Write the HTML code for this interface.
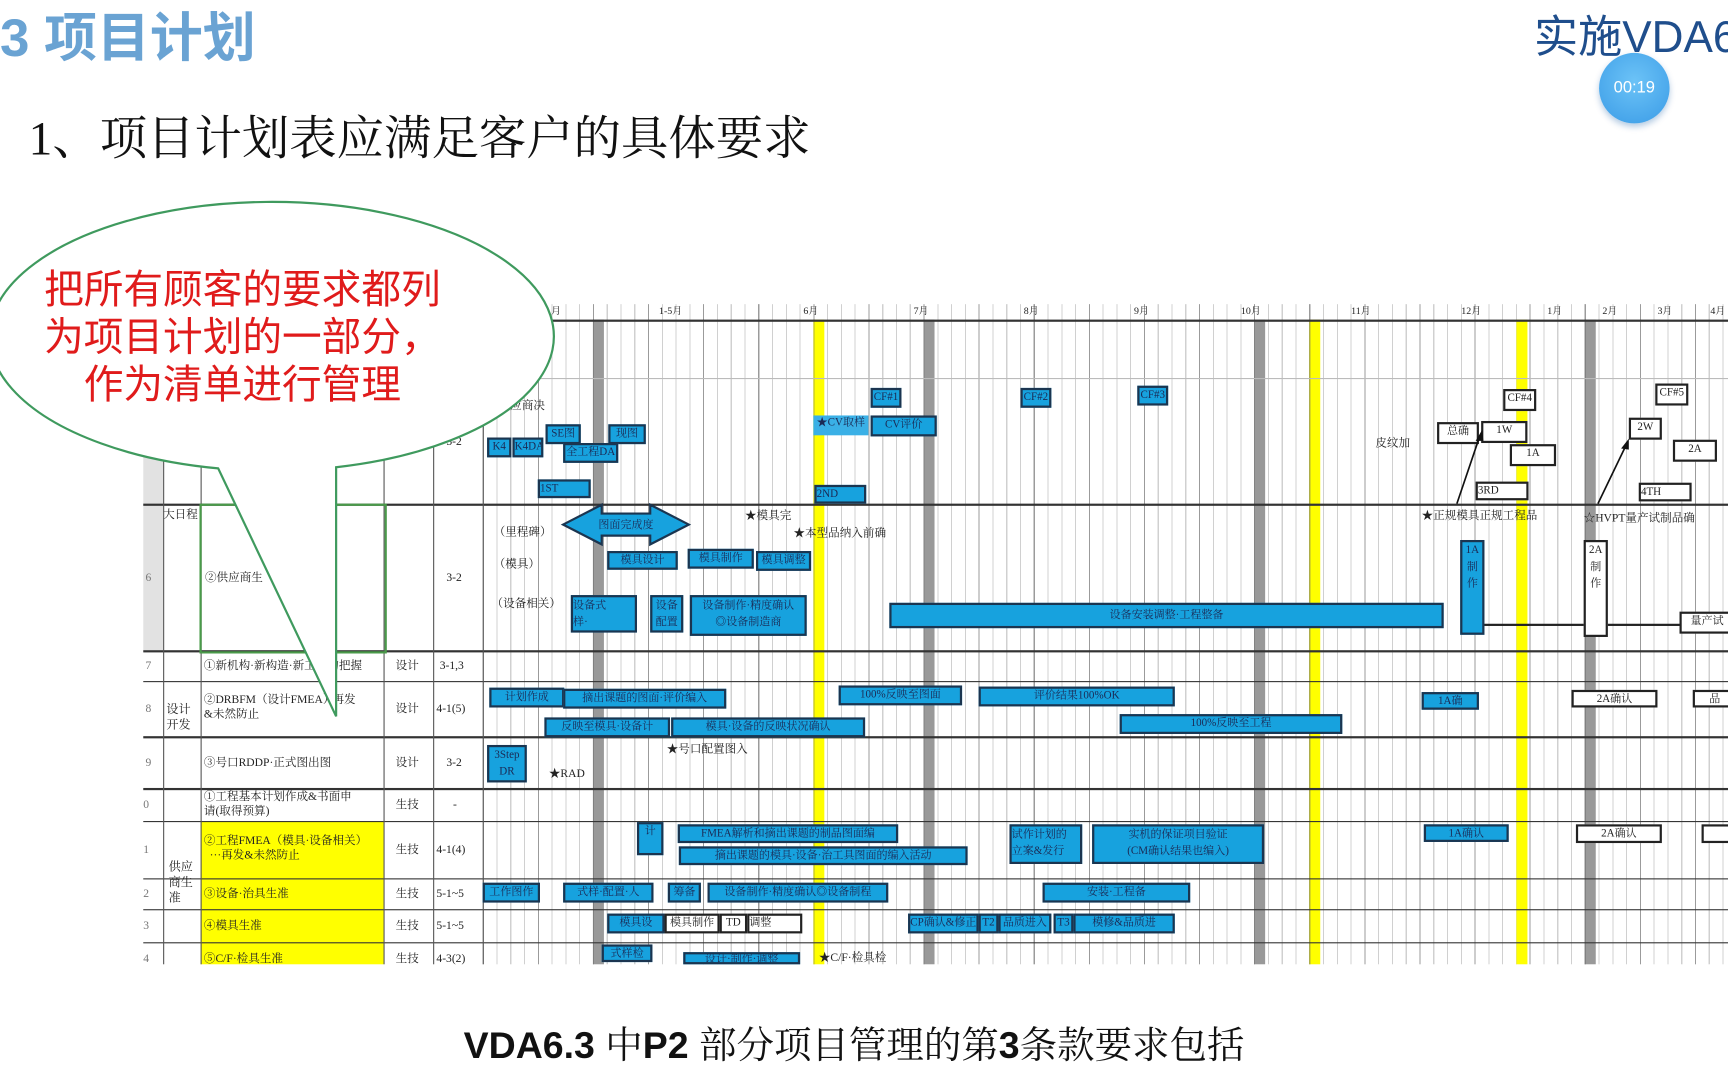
<!DOCTYPE html>
<html><head><meta charset="utf-8"><style>
html,body{margin:0;padding:0;background:#fff;width:1728px;height:1080px;overflow:hidden}
#w{position:absolute;left:0;top:0;width:1568px;height:980px;transform:scale(1.10204);transform-origin:0 0;font-family:"Liberation Serif","Noto Serif CJK SC",serif}
.a{position:absolute}
.b{position:absolute;background:#17a2de;border:2px solid #1b3550;box-sizing:border-box;font-size:10px;color:#1b2a55;text-align:center;line-height:14px;white-space:nowrap;overflow:hidden}
.wb{background:#fff;border-color:#222;color:#222}
.t{position:absolute;font-size:10.5px;color:#222;white-space:nowrap;line-height:13px}
.h{position:absolute;left:130px;width:1438px;height:1px;background:#333}
.v{position:absolute;width:1px;background:#555}
.cat{position:absolute;font-size:11px;color:#222;line-height:14px}
</style></head><body><div id="w">
<div class="a" style="left:0;top:4px;font-family:'Liberation Sans','Noto Sans CJK SC',sans-serif;font-weight:bold;font-size:48px;color:#6aa3d3;line-height:64px;white-space:nowrap">3 项目计划</div>
<div class="a" style="left:1392px;top:8px;font-family:'Liberation Sans','Noto Sans CJK SC',sans-serif;font-size:40px;color:#1f4e8c;line-height:52px;white-space:nowrap">实施VDA6</div>
<div class="a" style="left:1451px;top:48px;width:64px;height:64px;border-radius:50%;background:radial-gradient(circle at 50% 40%,#6cc3f7,#3a9be6);box-shadow:0 3px 6px rgba(0,80,160,.3);color:#fff;font-family:'Liberation Sans',sans-serif;font-size:15px;text-align:center;line-height:64px">00:19</div>
<div class="a" style="left:26px;top:98px;font-family:'Liberation Serif','Noto Serif CJK SC',serif;font-size:43px;color:#111;line-height:58px;white-space:nowrap">1、项目计划表应满足客户的具体要求</div>
<div class="a" style="left:0;width:1550px;top:924px;text-align:center;font-family:'Liberation Sans','Noto Serif CJK SC',sans-serif;font-size:34px;color:#111;line-height:50px"><b>VDA6.3</b> 中<b>P2</b> 部分项目管理的第<b>3</b>条款要求包括</div>

<div class="a" style="left:438px;top:276px;width:1130px;height:599px;background:repeating-linear-gradient(90deg,#d0d0d0 0 1px,transparent 1px 12.5px)"></div>
<div class="a" style="left:130px;top:290px;width:18px;height:300px;background:#e2e2e2"></div>
<div class="a" style="left:182px;top:745px;width:166px;height:130px;background:#ffff00"></div>
<div class="a" style="left:538px;top:290px;width:10px;height:585px;background:#999"></div>
<div class="a" style="left:838px;top:290px;width:10px;height:585px;background:#999"></div>
<div class="a" style="left:1138px;top:290px;width:10px;height:585px;background:#999"></div>
<div class="a" style="left:1438px;top:290px;width:10px;height:585px;background:#999"></div>
<div class="a" style="left:738px;top:290px;width:10px;height:585px;background:#ffff00"></div>
<div class="a" style="left:1188px;top:290px;width:10px;height:585px;background:#ffff00"></div>
<div class="a" style="left:1376px;top:290px;width:10px;height:585px;background:#ffff00"></div>
<div class="a" style="left:488px;top:276px;width:1080px;height:599px;background:repeating-linear-gradient(90deg,#666 0 1px,transparent 1px 50px);opacity:.5"></div>
<div class="h" style="top:290px;left:438px;width:1130px;height:2px"></div>
<div class="h" style="top:343px;left:438px;width:1130px;background:#bbb"></div>
<div class="h" style="top:457px;height:2px"></div>
<div class="h" style="top:590px;height:2px"></div>
<div class="h" style="top:618px"></div>
<div class="h" style="top:668px;height:2px"></div>
<div class="h" style="top:715px;height:2px"></div>
<div class="h" style="top:745px"></div>
<div class="h" style="top:797px"></div>
<div class="h" style="top:825px"></div>
<div class="h" style="top:855px"></div>
<div class="v" style="left:148px;top:290px;height:585px"></div>
<div class="v" style="left:182px;top:290px;height:585px"></div>
<div class="v" style="left:348px;top:290px;height:585px"></div>
<div class="v" style="left:393px;top:290px;height:585px"></div>
<div class="v" style="left:438px;top:276px;height:599px"></div>
<div class="t" style="left:500px;top:276px;font-size:9px">月</div>
<div class="t" style="left:598px;top:276px;font-size:9px">1-5月</div>
<div class="t" style="left:729px;top:276px;font-size:9px">6月</div>
<div class="t" style="left:829px;top:276px;font-size:9px">7月</div>
<div class="t" style="left:929px;top:276px;font-size:9px">8月</div>
<div class="t" style="left:1029px;top:276px;font-size:9px">9月</div>
<div class="t" style="left:1126px;top:276px;font-size:9px">10月</div>
<div class="t" style="left:1226px;top:276px;font-size:9px">11月</div>
<div class="t" style="left:1326px;top:276px;font-size:9px">12月</div>
<div class="t" style="left:1404px;top:276px;font-size:9px">1月</div>
<div class="t" style="left:1454px;top:276px;font-size:9px">2月</div>
<div class="t" style="left:1504px;top:276px;font-size:9px">3月</div>
<div class="t" style="left:1552px;top:276px;font-size:9px">4月</div>

<div class="t" style="left:132px;top:518px;color:#777">6</div>
<div class="t" style="left:132px;top:598px;color:#777">7</div>
<div class="t" style="left:132px;top:637px;color:#777">8</div>
<div class="t" style="left:132px;top:686px;color:#777">9</div>
<div class="t" style="left:130px;top:724px;color:#777">0</div>
<div class="t" style="left:130px;top:765px;color:#777">1</div>
<div class="t" style="left:130px;top:805px;color:#777">2</div>
<div class="t" style="left:130px;top:834px;color:#777">3</div>
<div class="t" style="left:130px;top:864px;color:#777">4</div>
<div class="t" style="left:148px;top:461px">大日程</div>
<div class="cat" style="left:151px;top:637px">设计<br>开发</div>
<div class="cat" style="left:153px;top:780px">供应<br>商生<br>准</div>
<div class="t" style="left:186px;top:518px">②供应商生</div>
<div class="t" style="left:185px;top:598px">①新机构·新构造·新工艺的把握</div>
<div class="t" style="left:185px;top:629px">②DRBFM（设计FMEA）·再发<br>&amp;未然防止</div>
<div class="t" style="left:185px;top:686px">③号口RDDP·正式图出图</div>
<div class="t" style="left:185px;top:717px">①工程基本计划作成&amp;书面申<br>请(取得预算)</div>
<div class="t" style="left:185px;top:757px">②工程FMEA（模具·设备相关）<br>&nbsp;&nbsp;···再发&amp;未然防止</div>
<div class="t" style="left:185px;top:805px">③设备·治具生准</div>
<div class="t" style="left:185px;top:834px">④模具生准</div>
<div class="t" style="left:185px;top:864px">⑤C/F·检具生准</div>
<div class="t" style="left:359px;top:598px">设计</div>
<div class="t" style="left:359px;top:637px">设计</div>
<div class="t" style="left:359px;top:686px">设计</div>
<div class="t" style="left:359px;top:724px">生技</div>
<div class="t" style="left:359px;top:765px">生技</div>
<div class="t" style="left:359px;top:805px">生技</div>
<div class="t" style="left:359px;top:834px">生技</div>
<div class="t" style="left:359px;top:864px">生技</div>
<div class="t" style="left:405px;top:395px">3-2</div>
<div class="t" style="left:405px;top:518px">3-2</div>
<div class="t" style="left:399px;top:598px">3-1,3</div>
<div class="t" style="left:396px;top:637px">4-1(5)</div>
<div class="t" style="left:405px;top:686px">3-2</div>
<div class="t" style="left:411px;top:724px">-</div>
<div class="t" style="left:396px;top:765px">4-1(4)</div>
<div class="t" style="left:396px;top:805px">5-1~5</div>
<div class="t" style="left:396px;top:834px">5-1~5</div>
<div class="t" style="left:396px;top:864px">4-3(2)</div>
<div class="a" style="left:181px;top:457px;width:166px;height:132px;border:2px solid #4a9a4a"></div>

<div class="t" style="left:463px;top:362px">应商决</div>
<div class="t" style="left:1248px;top:396px">皮纹加</div>
<div class="t" style="left:448px;top:477px">（里程碑）</div>
<div class="t" style="left:448px;top:506px">（模具）</div>
<div class="t" style="left:446px;top:542px">（设备相关）</div>
<div class="t" style="left:676px;top:462px">★模具完</div>
<div class="t" style="left:720px;top:478px">★本型品纳入前确</div>
<div class="t" style="left:1290px;top:462px">★正规模具正规工程品</div>
<div class="t" style="left:1437px;top:464px">☆HVPT量产试制品确</div>
<div class="t" style="left:498px;top:696px">★RAD</div>
<div class="t" style="left:605px;top:674px">★号口配置图入</div>
<div class="t" style="left:743px;top:863px">★C/F·检具检</div>

<div class="b" style="left:790px;top:352px;width:28px;height:18px">CF#1</div>
<div class="b" style="left:926px;top:352px;width:28px;height:18px">CF#2</div>
<div class="b" style="left:1032px;top:350px;width:28px;height:18px">CF#3</div>
<div class="b" style="left:738px;top:377px;width:50px;height:18px;border:none;background:#3ab0e6">★CV取样</div>
<div class="b" style="left:790px;top:377px;width:60px;height:19px">CV评价</div>
<div class="b" style="left:442px;top:397px;width:22px;height:18px">K4</div>
<div class="b" style="left:465px;top:397px;width:28px;height:18px">K4DA</div>
<div class="b" style="left:495px;top:385px;width:32px;height:18px">SE图</div>
<div class="b" style="left:552px;top:385px;width:34px;height:18px">现图</div>
<div class="b" style="left:511px;top:402px;width:50px;height:18px">全工程DA</div>
<div class="b" style="left:488px;top:435px;width:48px;height:17px;text-align:left">1ST</div>
<div class="b" style="left:739px;top:440px;width:47px;height:17px;text-align:left">2ND</div>
<div class="b wb" style="left:1364px;top:353px;width:30px;height:20px">CF#4</div>
<div class="b wb" style="left:1304px;top:383px;width:38px;height:20px">总确</div>
<div class="b wb" style="left:1344px;top:382px;width:42px;height:20px">1W</div>
<div class="b wb" style="left:1370px;top:403px;width:42px;height:20px">1A</div>
<div class="b wb" style="left:1339px;top:437px;width:48px;height:17px;text-align:left">3RD</div>
<div class="b wb" style="left:1502px;top:348px;width:30px;height:20px">CF#5</div>
<div class="b wb" style="left:1478px;top:379px;width:30px;height:20px">2W</div>
<div class="b wb" style="left:1518px;top:399px;width:40px;height:20px">2A</div>
<div class="b wb" style="left:1487px;top:438px;width:48px;height:17px;text-align:left">4TH</div>

<div class="b" style="left:551px;top:500px;width:64px;height:17px">模具设计</div>
<div class="b" style="left:624px;top:498px;width:60px;height:18px">模具制作</div>
<div class="b" style="left:686px;top:500px;width:50px;height:18px">模具调整</div>
<div class="b" style="left:518px;top:540px;width:60px;height:34px;text-align:left;line-height:15px;white-space:normal">设备式<br>样·</div>
<div class="b" style="left:590px;top:540px;width:30px;height:34px;line-height:15px">设备<br>配置</div>
<div class="b" style="left:626px;top:540px;width:106px;height:37px;line-height:15px">设备制作·精度确认<br>◎设备制造商</div>
<div class="b" style="left:807px;top:547px;width:503px;height:23px;line-height:19px">设备安装调整·工程整备</div>
<div class="b" style="left:1325px;top:490px;width:22px;height:86px;line-height:15px;white-space:normal">1A<br>制<br>作</div>
<div class="b wb" style="left:1437px;top:490px;width:22px;height:88px;line-height:15px">2A<br>制<br>作</div>
<div class="a" style="left:1347px;top:566px;width:90px;height:2px;background:#222"></div>
<div class="a" style="left:1459px;top:566px;width:65px;height:2px;background:#222"></div>
<div class="b wb" style="left:1524px;top:555px;width:50px;height:20px">量产试</div>

<div class="b" style="left:444px;top:624px;width:68px;height:18px">计划作成</div>
<div class="b" style="left:511px;top:625px;width:148px;height:18px">摘出课题的图面·评价编入</div>
<div class="b" style="left:761px;top:622px;width:112px;height:18px">100%反映至图面</div>
<div class="b" style="left:888px;top:623px;width:178px;height:18px">评价结果100%OK</div>
<div class="b" style="left:1290px;top:628px;width:52px;height:16px">1A确</div>
<div class="b wb" style="left:1426px;top:626px;width:78px;height:16px">2A确认</div>
<div class="b wb" style="left:1536px;top:626px;width:40px;height:16px">品</div>
<div class="b" style="left:494px;top:651px;width:114px;height:18px">反映至模具·设备计</div>
<div class="b" style="left:609px;top:651px;width:176px;height:18px">模具·设备的反映状况确认</div>
<div class="b" style="left:1016px;top:648px;width:202px;height:18px">100%反映至工程</div>
<div class="b" style="left:442px;top:676px;width:36px;height:34px;line-height:15px">3Step<br>DR</div>
<div class="b" style="left:578px;top:746px;width:24px;height:30px">计</div>
<div class="b" style="left:615px;top:748px;width:200px;height:17px">FMEA解析和摘出课题的制品图面编</div>
<div class="b" style="left:616px;top:768px;width:262px;height:17px">摘出课题的模具·设备·治工具图面的编入活动</div>
<div class="b" style="left:916px;top:748px;width:66px;height:36px;line-height:15px;text-align:left">试作计划的<br>立案&amp;发行</div>
<div class="b" style="left:991px;top:748px;width:156px;height:36px;line-height:15px">实机的保证项目验证<br>(CM确认结果也编入)</div>
<div class="b" style="left:1292px;top:748px;width:77px;height:16px">1A确认</div>
<div class="b wb" style="left:1430px;top:748px;width:78px;height:17px">2A确认</div>
<div class="b wb" style="left:1544px;top:748px;width:30px;height:17px"></div>
<div class="b" style="left:438px;top:801px;width:52px;height:18px">工作图作</div>
<div class="b" style="left:511px;top:801px;width:82px;height:18px">式样·配置·人</div>
<div class="b" style="left:606px;top:801px;width:30px;height:18px">筹备</div>
<div class="b" style="left:642px;top:801px;width:164px;height:18px">设备制作·精度确认◎设备制程</div>
<div class="b" style="left:946px;top:801px;width:134px;height:18px">安装·工程备</div>
<div class="b" style="left:551px;top:829px;width:52px;height:18px">模具设</div>
<div class="b wb" style="left:603px;top:829px;width:50px;height:18px">模具制作</div>
<div class="b wb" style="left:653px;top:829px;width:25px;height:18px">TD</div>
<div class="b wb" style="left:678px;top:829px;width:50px;height:18px;text-align:left">调整</div>
<div class="b" style="left:824px;top:829px;width:64px;height:18px">CP确认&amp;修正</div>
<div class="b" style="left:888px;top:829px;width:18px;height:18px">T2</div>
<div class="b" style="left:906px;top:829px;width:48px;height:18px">品质进入</div>
<div class="b" style="left:956px;top:829px;width:18px;height:18px">T3</div>
<div class="b" style="left:974px;top:829px;width:92px;height:18px">模修&amp;品质进</div>
<div class="b" style="left:546px;top:857px;width:46px;height:16px">式样检</div>
<div class="b" style="left:620px;top:864px;width:106px;height:11px;line-height:9px">设计·制作·调整</div>

<svg class="a" style="left:0;top:0" width="1568" height="980" viewBox="0 0 1568 980">
<line x1="1322" y1="457" x2="1343" y2="395" stroke="#111" stroke-width="1.5"/>
<polygon points="1345,390 1339,400 1346,400" fill="#111"/>
<line x1="1450" y1="457" x2="1476" y2="403" stroke="#111" stroke-width="1.5"/>
<polygon points="1478,398 1471,407 1478,408" fill="#111"/>
<polygon points="511,476 546,458 546,466 590,466 590,458 625,476 590,494 590,486 546,486 546,494" fill="#17a2de" stroke="#1b3550" stroke-width="2"/>
<text x="568" y="479" font-size="10" text-anchor="middle" fill="#1b2a55" font-family="Noto Serif CJK SC, serif">图面完成度</text>
<path d="M305,424 L305,650 L198,425 A256,122 0 1 1 305,424 Z" fill="#fff" stroke="#3f9a5e" stroke-width="2"/>
<text font-family="Liberation Sans, Noto Sans CJK SC, sans-serif" font-size="36" fill="#e01b1b">
<tspan x="40" y="275">把所有顾客的要求都列</tspan>
<tspan x="40" y="318">为项目计划的一部分，</tspan>
<tspan x="76" y="361">作为清单进行管理</tspan>
</text>
</svg>
</div></body></html>
